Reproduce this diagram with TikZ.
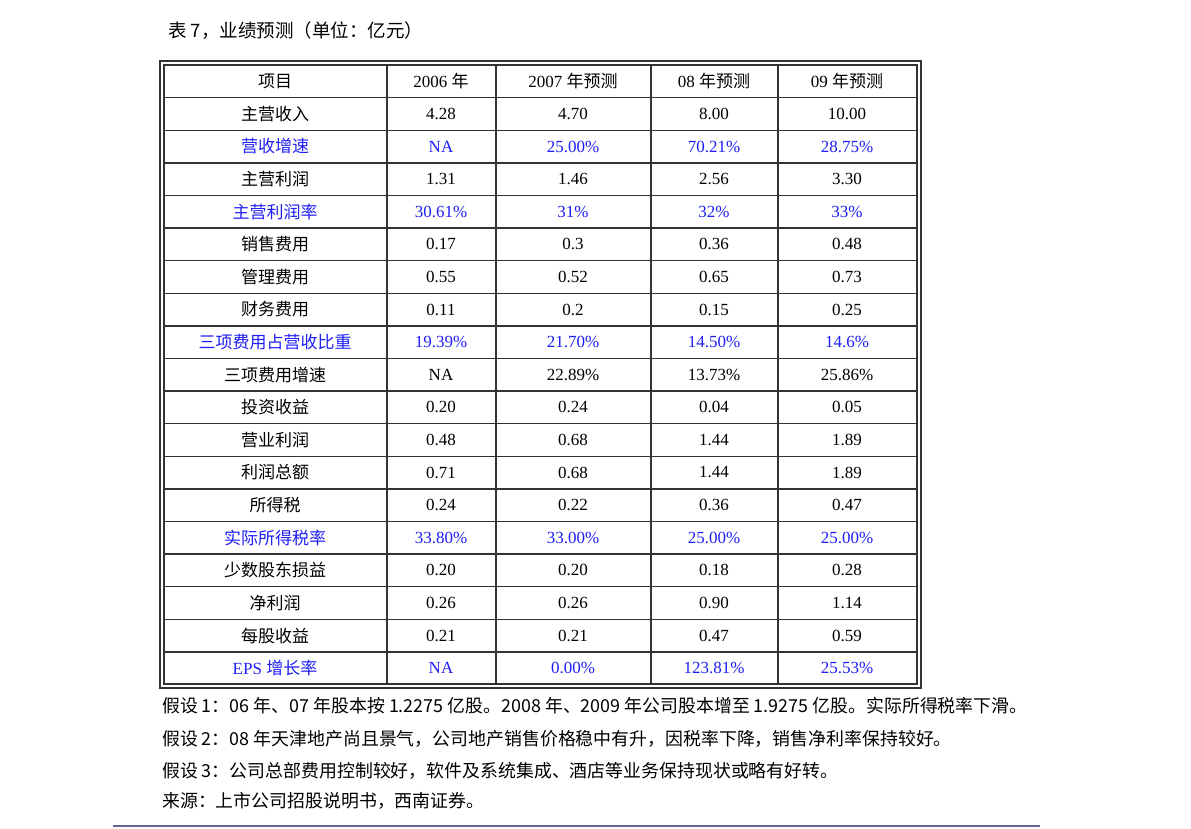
\documentclass[tikz,border=0pt]{standalone}
\usepackage{fontspec}
\setmainfont{Liberation Serif}
\newfontfamily\cjk{Noto Sans CJK SC}
\definecolor{blu}{RGB}{30,30,245}
\definecolor{rulec}{RGB}{100,100,150}
\begin{document}
\begin{tikzpicture}[x=1pt,y=-1pt,
  cell/.style={inner sep=0pt,anchor=center,font=\fontsize{17}{17}\selectfont},
  note/.style={inner sep=0pt,anchor=west,font=\cjk\fontsize{17.9}{18}\selectfont},
  grid/.style={draw=black!80,line width=1.4pt}]
\useasboundingbox (0,0) rectangle (1191,828);
\node[note,font=\cjk\fontsize{18.5}{18}\selectfont] (title) at (168,31) {表 7，业绩预测（单位：亿元）};
% table rules
\draw[grid] (160,61) rectangle (921,688);
\draw[grid] (164,65) rectangle (917,684);
\foreach \x in {387,496,651,778} \draw[grid] (\x,65) -- (\x,684);
\foreach \i in {1,...,18} \draw[grid] (164,65+32.6*\i) -- (917,65+32.6*\i);
% rows
\def\rows{%
{项目}/{2006 {\cjk 年}}/{2007 {\cjk 年预测}}/{08 {\cjk 年预测}}/{09 {\cjk 年预测}}/black,
{主营收入}/4.28/4.70/8.00/10.00/black,
{营收增速}/NA/25.00\%/70.21\%/28.75\%/blu,
{主营利润}/1.31/1.46/2.56/3.30/black,
{主营利润率}/30.61\%/31\%/32\%/33\%/blu,
{销售费用}/0.17/0.3/0.36/0.48/black,
{管理费用}/0.55/0.52/0.65/0.73/black,
{财务费用}/0.11/0.2/0.15/0.25/black,
{三项费用占营收比重}/19.39\%/21.70\%/14.50\%/14.6\%/blu,
{三项费用增速}/NA/22.89\%/13.73\%/25.86\%/black,
{投资收益}/0.20/0.24/0.04/0.05/black,
{营业利润}/0.48/0.68/1.44/1.89/black,
{利润总额}/0.71/0.68/1.44/1.89/black,
{所得税}/0.24/0.22/0.36/0.47/black,
{实际所得税率}/33.80\%/33.00\%/25.00\%/25.00\%/blu,
{少数股东损益}/0.20/0.20/0.18/0.28/black,
{净利润}/0.26/0.26/0.90/1.14/black,
{每股收益}/0.21/0.21/0.47/0.59/black,
{{\rmfamily EPS }增长率}/NA/0.00\%/123.81\%/25.53\%/blu}
\foreach [count=\r] \a/\b/\c/\d/\e/\col in \rows {
  \node[cell,text=\col] (r\r a) at (275,48.7+32.6*\r) {\cjk\a};
  \node[cell,text=\col] (r\r b) at (441,48.7+32.6*\r) {\b};
  \node[cell,text=\col] (r\r c) at (573,48.7+32.6*\r) {\c};
  \node[cell,text=\col] (r\r d) at (714,48.7+32.6*\r) {\d};
  \node[cell,text=\col] (r\r e) at (847,48.7+32.6*\r) {\e};
}
\node[note] (n1) at (162,706) {假设 1：06 年、07 年股本按 1.2275 亿股。2008 年、2009 年公司股本增至 1.9275 亿股。实际所得税率下滑。};
\node[note] (n2) at (162,739) {假设 2：08 年天津地产尚且景气，公司地产销售价格稳中有升，因税率下降，销售净利率保持较好。};
\node[note] (n3) at (162,771) {假设 3：公司总部费用控制较好，软件及系统集成、酒店等业务保持现状或略有好转。};
\node[note] (n4) at (162,801) {来源：上市公司招股说明书，西南证券。};
\draw[rulec,line width=2pt] (113,826) -- (1040,826);
\end{tikzpicture}
\end{document}
